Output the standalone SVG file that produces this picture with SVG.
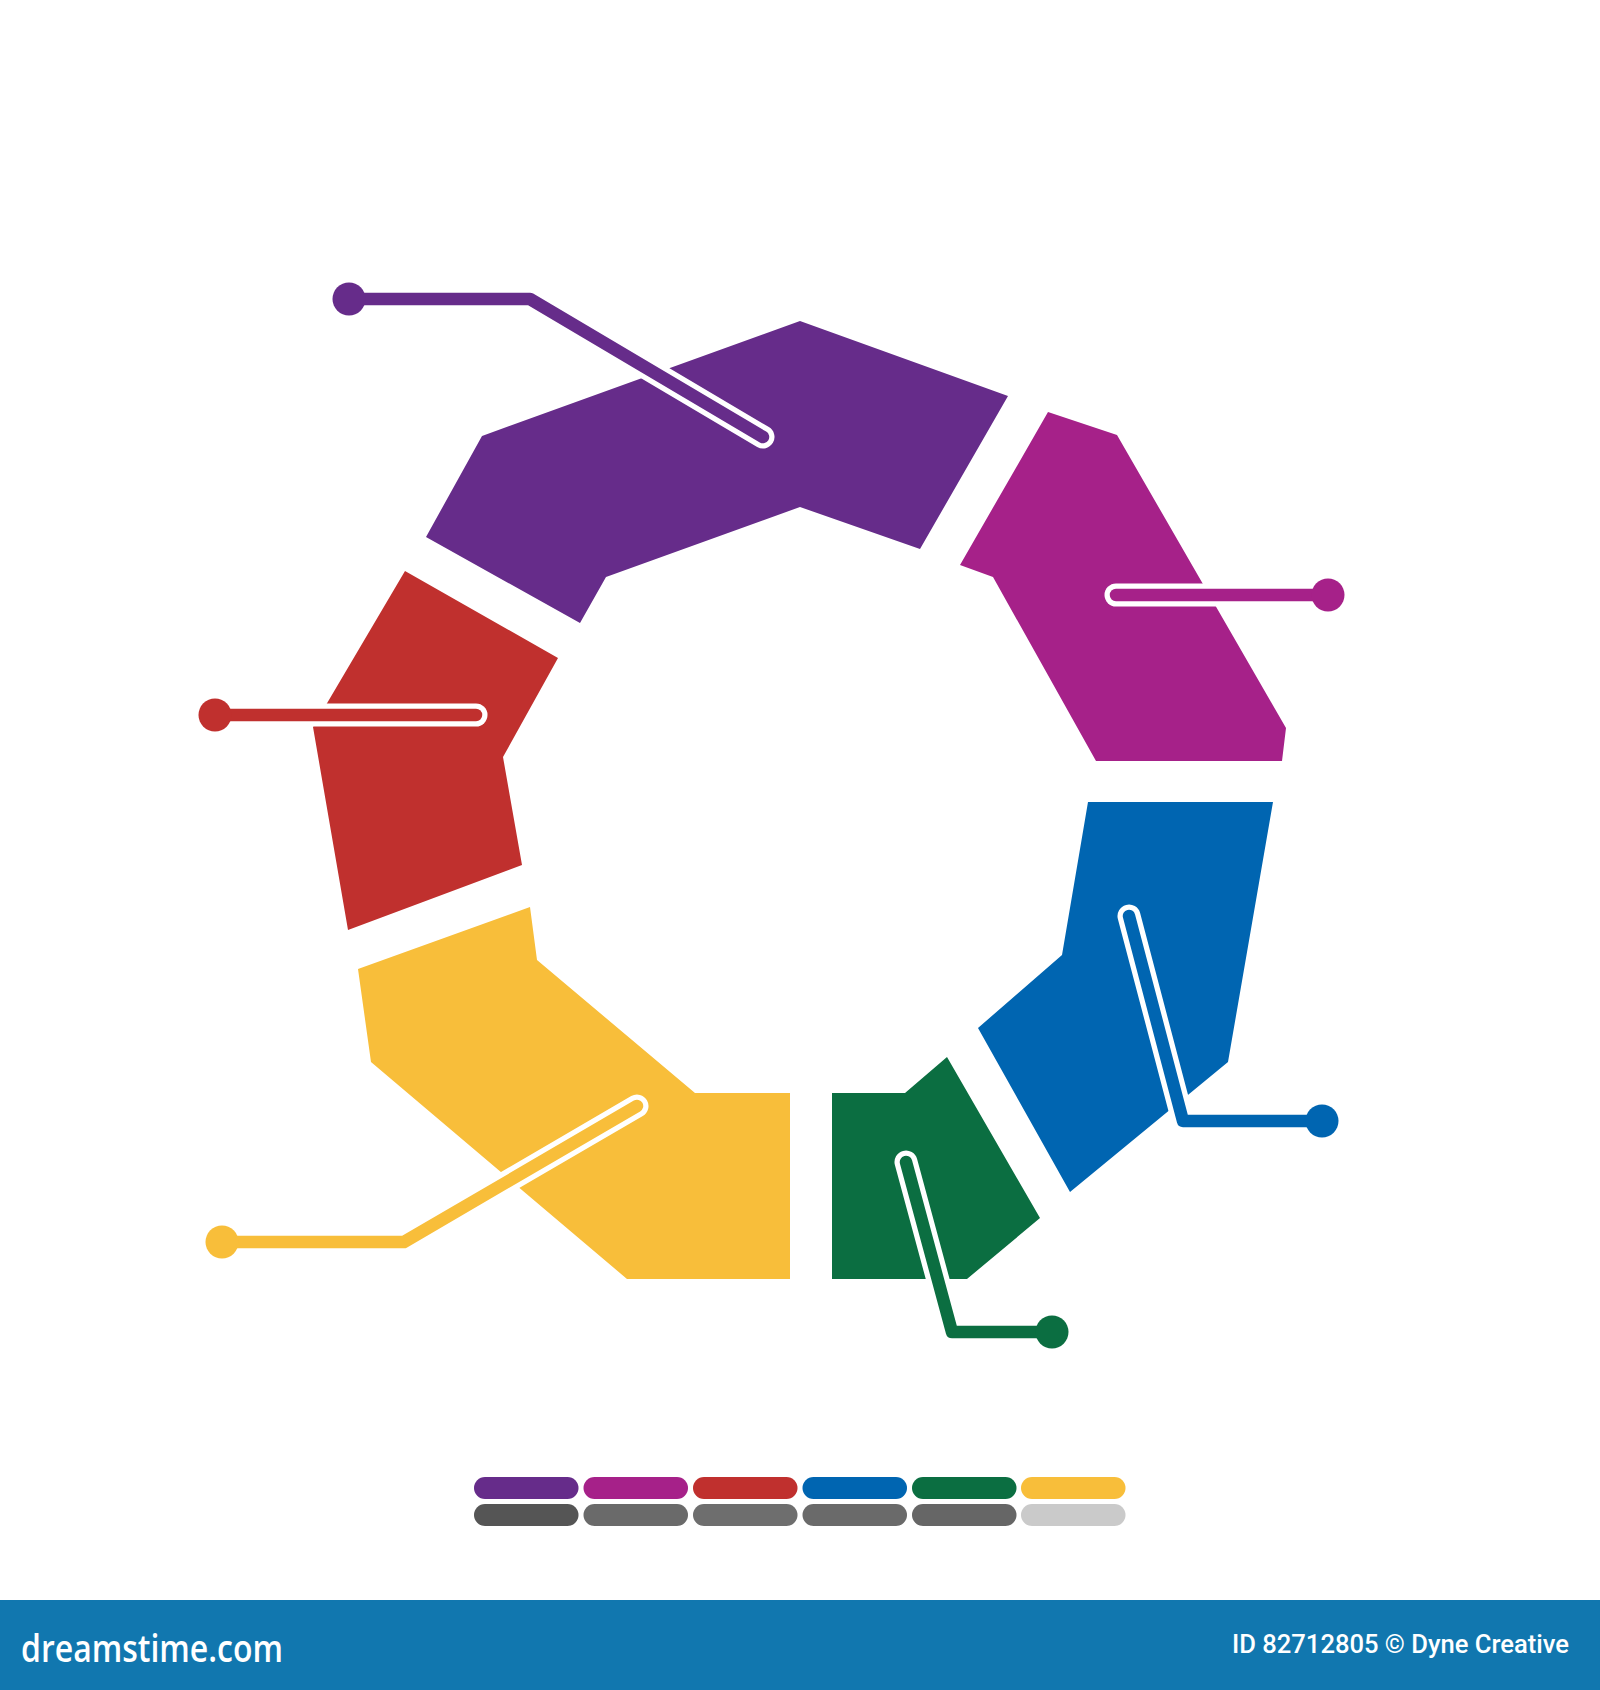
<svg xmlns="http://www.w3.org/2000/svg" width="1600" height="1690" viewBox="0 0 1600 1690">
<style>
.halo{fill:none;stroke:#ffffff;stroke-width:23;stroke-linecap:round;stroke-linejoin:round}
.wire{fill:none;stroke-width:12.5;stroke-linecap:round;stroke-linejoin:round}
.sw{stroke:none}
</style>
<rect x="0" y="0" width="1600" height="1690" fill="#ffffff"/>
<g id="segment-purple"><polygon points="800,321 1008,396 920,549 800,507 606,577 580,623 426,537 482,436" fill="#662C8A"/></g>
<g id="segment-magenta"><polygon points="1048,412 1117,435 1286,728 1282,761 1096,761 993,577 960,565" fill="#A62189"/></g>
<g id="segment-blue"><polygon points="1088,802 1273,802 1228,1062 1070,1192 978,1028 1062,955" fill="#0065B1"/></g>
<g id="segment-green"><polygon points="832,1093 905,1093 947,1057 1040,1218 967,1279 832,1279" fill="#0B6E41"/></g>
<g id="segment-yellow"><polygon points="530,907 537,960 695,1093 790,1093 790,1279 627,1279 371,1062 358,969" fill="#F8BE3A"/></g>
<g id="segment-red"><polygon points="405,571 558,658 503,757 522,865 348,930 313,727" fill="#C0302E"/></g>
<g id="connectors">
<g id="conn-purple"><path class="halo" d="M349,299 H530 L763,437"/><path class="wire" stroke="#662C8A" d="M349,299 H530 L763,437"/><circle cx="349" cy="299" r="16.5" fill="#662C8A"/></g>
<g id="conn-magenta"><path class="halo" d="M1328,595 H1116"/><path class="wire" stroke="#A62189" d="M1328,595 H1116"/><circle cx="1328" cy="595" r="16.5" fill="#A62189"/></g>
<g id="conn-red"><path class="halo" d="M215,715 H476"/><path class="wire" stroke="#C0302E" d="M215,715 H476"/><circle cx="215" cy="715" r="16.5" fill="#C0302E"/></g>
<g id="conn-blue"><path class="halo" d="M1322,1121 H1183 L1129,916"/><path class="wire" stroke="#0065B1" d="M1322,1121 H1183 L1129,916"/><circle cx="1322" cy="1121" r="16.5" fill="#0065B1"/></g>
<g id="conn-green"><path class="halo" d="M1052,1332 H952 L906,1162"/><path class="wire" stroke="#0B6E41" d="M1052,1332 H952 L906,1162"/><circle cx="1052" cy="1332" r="16.5" fill="#0B6E41"/></g>
<g id="conn-yellow"><path class="halo" d="M222,1242 H404 L637,1106"/><path class="wire" stroke="#F8BE3A" d="M222,1242 H404 L637,1106"/><circle cx="222" cy="1242" r="16.5" fill="#F8BE3A"/></g>
</g>
<g id="swatches">
<rect class="sw" x="474" y="1477" width="104.5" height="22" rx="11" fill="#662C8A"/>
<rect class="sw" x="583.5" y="1477" width="104.5" height="22" rx="11" fill="#A62189"/>
<rect class="sw" x="693" y="1477" width="104.5" height="22" rx="11" fill="#C0302E"/>
<rect class="sw" x="802.5" y="1477" width="104.5" height="22" rx="11" fill="#0065B1"/>
<rect class="sw" x="912" y="1477" width="104.5" height="22" rx="11" fill="#0B6E41"/>
<rect class="sw" x="1021" y="1477" width="104.5" height="22" rx="11" fill="#F8BE3A"/>
<rect class="sw" x="474" y="1504" width="104.5" height="22" rx="11" fill="#555555"/>
<rect class="sw" x="583.5" y="1504" width="104.5" height="22" rx="11" fill="#6A6A6A"/>
<rect class="sw" x="693" y="1504" width="104.5" height="22" rx="11" fill="#6E6E6E"/>
<rect class="sw" x="802.5" y="1504" width="104.5" height="22" rx="11" fill="#6A6A6A"/>
<rect class="sw" x="912" y="1504" width="104.5" height="22" rx="11" fill="#666666"/>
<rect class="sw" x="1021" y="1504" width="104.5" height="22" rx="11" fill="#CACACA"/>
</g>
<g id="footer">
<rect x="0" y="1600" width="1600" height="90" fill="#1177AF"/>
<text x="21" y="1662" font-family="'Open Sans', 'DejaVu Sans', sans-serif" font-weight="600" font-size="37" fill="#ffffff" textLength="262" lengthAdjust="spacingAndGlyphs">dreamstime.com</text>
<text x="1232" y="1653" font-family="Roboto, 'Liberation Sans', sans-serif" font-weight="500" font-size="26" fill="#ffffff" textLength="337" lengthAdjust="spacingAndGlyphs">ID 82712805 © Dyne Creative</text>
</g>
</svg>
